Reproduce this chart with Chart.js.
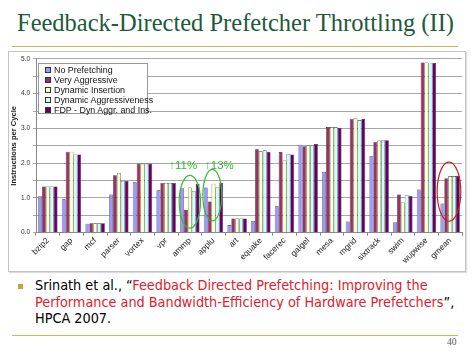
<!DOCTYPE html>
<html>
<head>
<meta charset="utf-8">
<script src="https://cdn.jsdelivr.net/npm/chart.js@4.4.1/dist/chart.umd.min.js"></script>
<style>
  html, body { margin:0; padding:0; background:#fff; }
  body { width:474px; height:355px; position:relative; overflow:hidden; }
  #title { position:absolute; left:17px; top:9px; font-family:"Liberation Serif","Times New Roman",serif; font-size:24.5px; color:#1d5a3a; white-space:nowrap; }
  .gold { position:absolute; left:12px; width:446px; height:1.5px; background:#dcb04a; }
  #box { position:absolute; left:8px; top:51px; width:456px; height:219px; border:1px solid #c4c4c4; box-shadow:1px 1px 1px #ddd; }
  #c { position:absolute; left:0; top:0; }
  #legend { position:absolute; left:29px; top:11px; width:110px; height:51px; border:1px solid #999; background:#fff; font-family:"Liberation Sans",Arial,sans-serif; font-size:8.9px; color:#111; padding-top:1px; box-sizing:border-box; }
  #legend div { height:10.1px; line-height:10.1px; white-space:nowrap; padding-left:6px; }
  #legend span.sw { display:inline-block; width:4px; height:4px; border:0.7px solid #333; margin-right:3px; vertical-align:0px; }
  #text { position:absolute; left:35px; top:277px; font-family:"DejaVu Sans Condensed","DejaVu Sans",sans-serif; font-size:14.3px; line-height:16.5px; color:#000; width:440px; }
  #text .r { color:#e0202c; }
  #bullet { position:absolute; left:18px; top:284px; width:5px; height:5px; background:#c9a43c; }
  #pg { position:absolute; left:447px; top:337px; font-family:"Liberation Serif",serif; font-size:9.5px; color:#555; }
</style>
</head>
<body>
<div id="title">Feedback-Directed Prefetcher Throttling (II)</div>
<div class="gold" style="top:45.5px"></div>
<div id="box"><canvas id="c" width="456" height="219"></canvas><div id="legend"></div></div>
<div id="bullet"></div>
<div id="text">Srinath et al., “<span class="r">Feedback Directed Prefetching: Improving the Performance and Bandwidth-Efficiency of Hardware Prefetchers</span>”, HPCA 2007.</div>
<div class="gold" style="top:334.5px"></div>
<div id="pg">40</div>
<script>
const categories = ["bzip2","gap","mcf","parser","vortex","vpr","ammp","applu","art","equake","facerec","galgel","mesa","mgrid","sixtrack","swim","wupwise","gmean"];
const seriesNames = ["No Prefetching","Very Aggressive","Dynamic Insertion","Dynamic Aggressiveness","FDP - Dyn Aggr. and Ins."];
const noPrefetching   = [1.05,0.96,0.26,1.10,1.45,1.22,1.28,1.30,0.22,0.34,0.76,2.53,1.75,0.32,2.21,0.30,1.24,0.84];
const veryAggressive  = [1.33,2.33,0.27,1.65,1.99,1.43,0.65,0.90,0.41,2.40,2.32,2.49,3.04,3.28,2.62,1.10,4.90,1.57];
const dynInsertion    = [1.33,2.33,0.27,1.72,1.99,1.43,1.30,1.41,0.41,2.34,2.08,2.51,3.04,3.30,2.65,0.87,4.90,1.63];
const dynAggressive   = [1.33,2.25,0.27,1.49,1.99,1.43,1.20,1.30,0.41,2.37,2.27,2.51,3.04,3.24,2.66,1.08,4.89,1.63];
const fdp             = [1.33,2.25,0.27,1.49,1.99,1.43,1.41,1.44,0.41,2.33,2.25,2.55,3.02,3.27,2.66,1.06,4.88,1.64];
const yTickLabels = ["0.0","1.0","2.0","3.0","4.0","5.0"];

const colors = ["#9999ff","#993366","#ffffcc","#ccffff","#660066"];
const values = [noPrefetching, veryAggressive, dynInsertion, dynAggressive, fdp];

// annotations, in data units (category name, value)
const notes = [
  {text:"\u219111%", cat:"ammp", dx:-0.28, y:1.93, color:"#33bb33"},
  {text:"\u219113%", cat:"applu", dx:0.25, y:1.93, color:"#33bb33"}
];
const ellipses = [
  {cat:"ammp", dx:0, top:1.65, bottom:0.13, w:0.9, color:"#33bb33"},
  {cat:"applu", dx:-0.05, top:1.82, bottom:0.34, w:0.8, color:"#33bb33"},
  {cat:"gmean", dx:-0.05, top:2.03, bottom:0.33, w:1.0, color:"#cc2222"}
];

const annot = {
  id:'annot',
  afterDatasetsDraw(chart){
    const ctx = chart.ctx, xs = chart.scales.x, ys = chart.scales.y;
    const cw = xs.getPixelForValue(1) - xs.getPixelForValue(0);
    ctx.save();
    ellipses.forEach(e=>{
      const i = categories.indexOf(e.cat);
      const cx = xs.getPixelForValue(i) + e.dx*cw;
      const t = ys.getPixelForValue(e.top), b = ys.getPixelForValue(e.bottom);
      ctx.beginPath();
      ctx.ellipse(cx, (t+b)/2, e.w*cw/2, (b-t)/2, 0, 0, Math.PI*2);
      ctx.strokeStyle = e.color; ctx.lineWidth = 1.2; ctx.stroke();
    });
    notes.forEach(n=>{
      const i = categories.indexOf(n.cat);
      const cx = xs.getPixelForValue(i) + n.dx*cw;
      ctx.font = '11.5px "Liberation Sans", "DejaVu Sans", sans-serif';
      ctx.fillStyle = n.color; ctx.textAlign='center'; ctx.textBaseline='middle';
      ctx.fillText(n.text, cx, ys.getPixelForValue(n.y));
    });
    ctx.restore();
  }
};

const chart = new Chart(document.getElementById('c'), {
  type:'bar',
  data:{
    labels:categories,
    datasets: seriesNames.map((n,k)=>({
      label:n, data:values[k], backgroundColor:colors[k],
      borderColor:'#333', borderWidth:0.6,
      categoryPercentage:0.82, barPercentage:1.0
    }))
  },
  options:{
    responsive:false, animation:false,
    layout:{padding:{left:0, top:5, right:3, bottom:0}},
    plugins:{legend:{display:false}, tooltip:{enabled:false}},
    scales:{
      x:{
        grid:{display:true, drawOnChartArea:false, tickLength:3, color:'#888', offset:true},
        border:{color:'#888'},
        ticks:{minRotation:45, maxRotation:45, padding:0, color:'#222', font:{family:'"Liberation Sans", Arial, sans-serif', size:8.4}},
        afterFit(s){ s.height = 38.3; }
      },
      y:{
        min:0, max:5,
        ticks:{stepSize:0.5, padding:3, color:'#333', font:{family:'"Liberation Sans", Arial, sans-serif', size:6.5},
          callback:(v)=>{ const i = Math.round(v*2); return i%2===0 ? yTickLabels[i/2] : ''; }},
        grid:{color:'#a8a8a8', tickLength:3, lineWidth:1},
        border:{color:'#888'},
        title:{display:true, text:'Instructions per Cycle', padding:0, color:'#222', font:{family:'"Liberation Sans", Arial, sans-serif', size:7.6, weight:'bold'}},
        afterFit(s){ s.width = 27; }
      }
    }
  },
  plugins:[annot]
});

const lg = document.getElementById('legend');
chart.data.datasets.forEach(d=>{
  const row = document.createElement('div');
  const sw = document.createElement('span'); sw.className='sw'; sw.style.background=d.backgroundColor;
  row.appendChild(sw); row.appendChild(document.createTextNode(d.label));
  lg.appendChild(row);
});
</script>
</body>
</html>
